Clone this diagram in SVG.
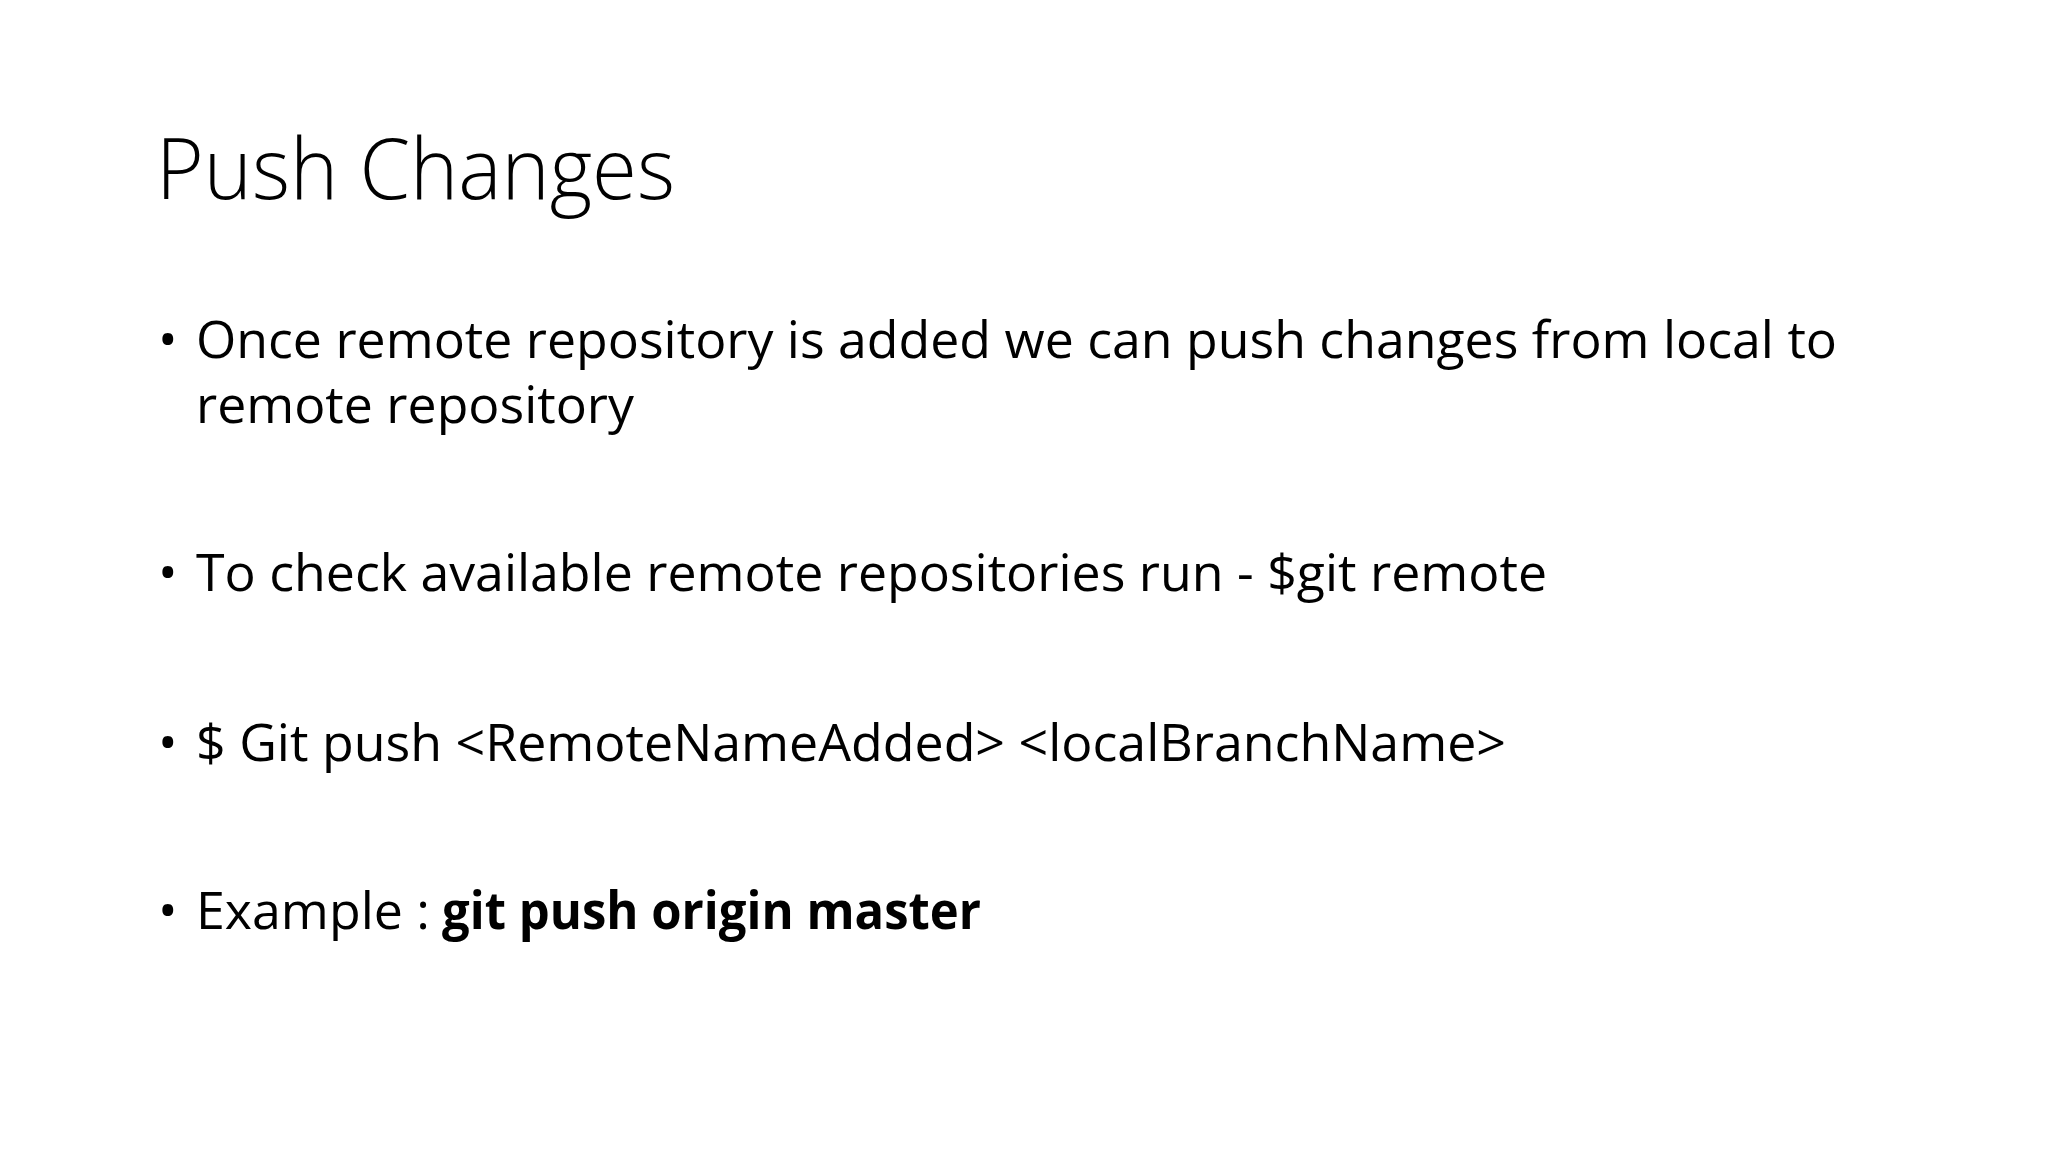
<svg xmlns="http://www.w3.org/2000/svg" width="2048" height="1152" viewBox="0 0 2048 1152">
<style>
.t{font-family:"Open Sans","Liberation Sans",sans-serif;fill:#000}
.title{font-size:84px;font-weight:300}
.b{font-size:52px}
</style>
<rect width="2048" height="1152" fill="#fff"/>
<g id="title"><text class="t title" x="156" y="199" textLength="519" lengthAdjust="spacingAndGlyphs">Push Changes</text></g>
<g id="bullets">
<text class="t b" x="158" y="358">•</text>
<text class="t b" x="196" y="358" textLength="1641" lengthAdjust="spacingAndGlyphs">Once remote repository is added we can push changes from local to</text>
<text class="t b" x="196" y="423" textLength="438" lengthAdjust="spacingAndGlyphs">remote repository</text>
<text class="t b" x="158" y="591">•</text>
<text class="t b" x="196" y="591" textLength="1351" lengthAdjust="spacingAndGlyphs">To check available remote repositories run - $git remote</text>
<text class="t b" x="158" y="761">•</text>
<text class="t b" x="196" y="761" textLength="1310" lengthAdjust="spacingAndGlyphs">$ Git push &lt;RemoteNameAdded&gt; &lt;localBranchName&gt;</text>
<text class="t b" x="158" y="929">•</text>
<text class="t b" x="196" y="929" textLength="234" lengthAdjust="spacingAndGlyphs">Example :</text>
<text class="t b" x="442" y="929" font-weight="bold" textLength="539" lengthAdjust="spacingAndGlyphs">git push origin master</text>
</g>
</svg>
